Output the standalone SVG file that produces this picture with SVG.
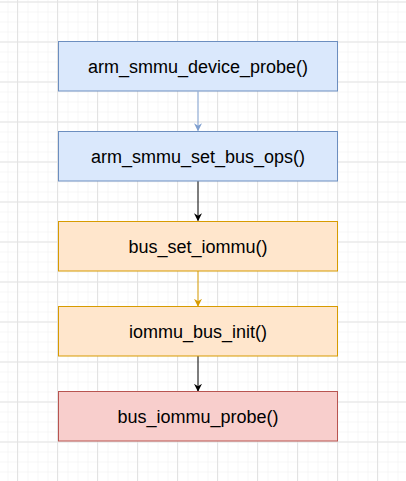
<svg xmlns="http://www.w3.org/2000/svg" width="406" height="481" viewBox="0 0 406 481">
<defs>
<pattern id="minor" width="10" height="10" patternUnits="userSpaceOnUse" x="7.5" y="1.5">
<path d="M0 0.5H10M0.5 0V10" fill="none" stroke="#f6f6f6" stroke-width="1"/>
</pattern>
<pattern id="major" width="40" height="40" patternUnits="userSpaceOnUse" x="17" y="1.5">
<path d="M0 0.5H40M0.5 0V40" fill="none" stroke="#e3e3e3" stroke-width="1"/>
</pattern>
<marker id="ah" viewBox="0 0 10 10" refX="9" refY="5" markerWidth="7" markerHeight="7" markerUnits="userSpaceOnUse" orient="auto">
<path d="M0 0L10 5L0 10L3 5Z" fill="context-stroke"/>
</marker>
<marker id="ahb" viewBox="0 0 10 10" refX="9" refY="5" markerWidth="8" markerHeight="8" markerUnits="userSpaceOnUse" orient="auto">
<path d="M0 0L10 5L0 10L3 5Z" fill="#7f9fcf"/>
</marker>
<marker id="ahk" viewBox="0 0 10 10" refX="9" refY="5" markerWidth="8" markerHeight="8" markerUnits="userSpaceOnUse" orient="auto">
<path d="M0 0L10 5L0 10L3 5Z" fill="#000000"/>
</marker>
<marker id="aho" viewBox="0 0 10 10" refX="9" refY="5" markerWidth="8" markerHeight="8" markerUnits="userSpaceOnUse" orient="auto">
<path d="M0 0L10 5L0 10L3 5Z" fill="#d79b00"/>
</marker>
</defs>
<style>
.blue{fill:#dae8fc;stroke:#6c8ebf;stroke-width:1}
.orange{fill:#ffe6cc;stroke:#d79b00;stroke-width:1}
.red{fill:#f8cecc;stroke:#b85450;stroke-width:1}
.lbl{font-family:"Liberation Sans",Arial,sans-serif;font-size:18px;fill:#000000;text-anchor:middle}
.edge{fill:none;stroke-width:1}
</style>
<rect width="406" height="481" fill="#ffffff"/>
<rect width="406" height="481" fill="url(#minor)"/>
<rect width="406" height="481" fill="url(#major)"/>
<g id="connectors">
<path class="edge" d="M198 91.5V130.5" stroke="#7f9fcf" marker-end="url(#ahb)"/>
<path class="edge" d="M198 181V220.5" stroke="#000000" marker-end="url(#ahk)"/>
<path class="edge" d="M198 271V306" stroke="#d79b00" marker-end="url(#aho)"/>
<path class="edge" d="M198 356V391" stroke="#000000" marker-end="url(#ahk)"/>
</g>
<g id="n1">
<rect class="blue" x="58.5" y="41.5" width="279" height="49.5"/>
<text class="lbl" x="198" y="72.8">arm_smmu_device_probe()</text>
</g>
<g id="n2">
<rect class="blue" x="58.5" y="131.5" width="279" height="49.5"/>
<text class="lbl" x="198" y="162.8">arm_smmu_set_bus_ops()</text>
</g>
<g id="n3">
<rect class="orange" x="58.5" y="221.5" width="279" height="49.5"/>
<text class="lbl" x="198" y="252.8">bus_set_iommu()</text>
</g>
<g id="n4">
<rect class="orange" x="58.5" y="306.5" width="279" height="49.5"/>
<text class="lbl" x="198" y="337.8">iommu_bus_init()</text>
</g>
<g id="n5">
<rect class="red" x="58.5" y="391.5" width="279" height="49.5"/>
<text class="lbl" x="198" y="422.8">bus_iommu_probe()</text>
</g>
</svg>
